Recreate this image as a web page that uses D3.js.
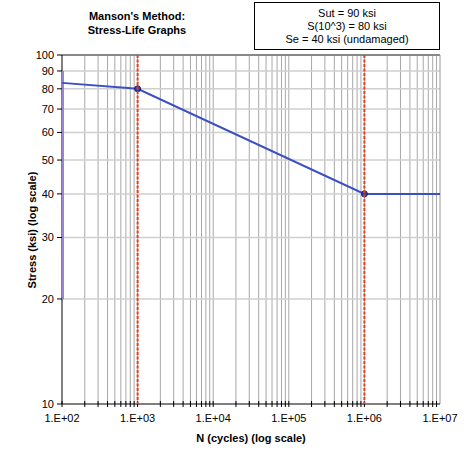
<!DOCTYPE html>
<html><head><meta charset="utf-8">
<script src="https://cdn.jsdelivr.net/npm/d3@7"></script>
<style>body{margin:0;background:#fff;} text{font-family:"Liberation Sans",Arial,sans-serif;}</style>
</head><body>
<svg id="c" width="469" height="451"></svg>
<script>
const titleLines = ["Manson's Method:", "Stress-Life Graphs"];
const legendLines = ["Sut = 90 ksi", "S(10^3) = 80 ksi", "Se = 40 ksi (undamaged)"];
const curveN = [100, 1000, 1e6, 1e7];
const curveS = [83.2, 80, 40, 40];
const markerN = [1000, 1e6];
const markerS = [80, 40];
const refLinesN = [1000, 1e6];
const sutLineN = [100, 100];
const sutLineS = [20, 90];
const xTickValues = [1e2, 1e3, 1e4, 1e5, 1e6, 1e7];
const xTickLabels = ["1.E+02", "1.E+03", "1.E+04", "1.E+05", "1.E+06", "1.E+07"];
const yTickValues = [10, 20, 30, 40, 50, 60, 70, 80, 90, 100];

const svg = d3.select("#c");
const L = 62, R = 440, T = 55, B = 404;
const x = d3.scaleLog().domain([1e2, 1e7]).range([L, R]);
const y = d3.scaleLog().domain([10, 100]).range([B, T]);

const xMinor = [];
for (let e = 2; e < 7; e++) for (let m = 1; m <= 9; m++) { const v = m * Math.pow(10, e); if (v > 1e2 && v <= 1e7) xMinor.push(v); }
svg.append("g").selectAll("line").data(xMinor).join("line")
  .attr("x1", d => x(d)).attr("x2", d => x(d)).attr("y1", T).attr("y2", B)
  .attr("stroke", "#a8a8a8").attr("stroke-width", 1);
svg.append("g").selectAll("line").data(yTickValues.filter(v => v > 10)).join("line")
  .attr("x1", L).attr("x2", R).attr("y1", d => y(d)).attr("y2", d => y(d))
  .attr("stroke", "#cfcfcf").attr("stroke-width", 1.5);
svg.append("line").attr("x1", L).attr("x2", R).attr("y1", T).attr("y2", T).attr("stroke", "#888").attr("stroke-width", 2);
svg.append("line").attr("x1", R).attr("x2", R).attr("y1", T).attr("y2", B).attr("stroke", "#999").attr("stroke-width", 1);

const gx = svg.append("g").attr("transform", `translate(0,${B})`);
gx.append("line").attr("x1", L).attr("x2", R).attr("stroke", "#000").attr("stroke-width", 1);
gx.selectAll("line.t").data(xMinor.concat([1e2])).join("line").attr("class", "t")
  .attr("x1", d => x(d)).attr("x2", d => x(d)).attr("y1", -3).attr("y2", 3).attr("stroke", "#000");
gx.selectAll("text").data(xTickValues).join("text")
  .attr("x", d => x(d)).attr("y", 18).attr("text-anchor", "middle").attr("font-size", 11).attr("fill", "#000")
  .text((d, i) => xTickLabels[i]);

const gy = svg.append("g").attr("transform", `translate(${L},0)`);
gy.append("line").attr("y1", T).attr("y2", B).attr("stroke", "#000");
gy.selectAll("line.t").data(yTickValues).join("line").attr("class", "t")
  .attr("x1", -5).attr("x2", 0).attr("y1", d => y(d)).attr("y2", d => y(d)).attr("stroke", "#000");
gy.selectAll("text").data(yTickValues).join("text")
  .attr("x", -8).attr("y", d => y(d) + 4).attr("text-anchor", "end").attr("font-size", 11).attr("fill", "#000")
  .text(d => d);

svg.append("path").datum(sutLineN.map((n, i) => [n, sutLineS[i]]))
  .attr("d", d3.line().x(d => x(d[0]) + 1).y(d => y(d[1])))
  .attr("stroke", "#9b84d4").attr("stroke-width", 2).attr("fill", "none");

svg.append("path").datum(curveN.map((n, i) => [n, curveS[i]]))
  .attr("d", d3.line().x(d => x(d[0])).y(d => y(d[1])))
  .attr("stroke", "#3b4fc4").attr("stroke-width", 2).attr("fill", "none");
svg.append("g").selectAll("circle").data(markerN.map((n, i) => [n, markerS[i]])).join("circle")
  .attr("cx", d => x(d[0])).attr("cy", d => y(d[1])).attr("r", 3)
  .attr("fill", "#2b3fb0").attr("stroke", "#141c70").attr("stroke-width", 1);

svg.append("g").selectAll("line").data(refLinesN).join("line")
  .attr("x1", d => x(d)).attr("x2", d => x(d)).attr("y1", T).attr("y2", B)
  .attr("stroke", "#e8401c").attr("stroke-width", 2).attr("stroke-dasharray", "3,1.5");

svg.append("g").selectAll("text").data(titleLines).join("text")
  .attr("x", 137).attr("y", (d, i) => 20 + i * 14).attr("text-anchor", "middle")
  .attr("font-size", 11).attr("font-weight", "bold").text(d => d);

svg.append("rect").attr("x", 254.5).attr("y", 2.5).attr("width", 185).attr("height", 47)
  .attr("fill", "#fff").attr("stroke", "#000").attr("stroke-width", 1);
svg.append("g").selectAll("text").data(legendLines).join("text")
  .attr("x", 347).attr("y", (d, i) => 17 + i * 13).attr("text-anchor", "middle")
  .attr("font-size", 11).text(d => d);

svg.append("text").attr("x", 251).attr("y", 442).attr("text-anchor", "middle")
  .attr("font-size", 11).attr("font-weight", "bold").text("N (cycles) (log scale)");
svg.append("text").attr("transform", "translate(36,230) rotate(-90)").attr("text-anchor", "middle")
  .attr("font-size", 11).attr("font-weight", "bold").text("Stress (ksi) (log scale)");
</script>
</body></html>
